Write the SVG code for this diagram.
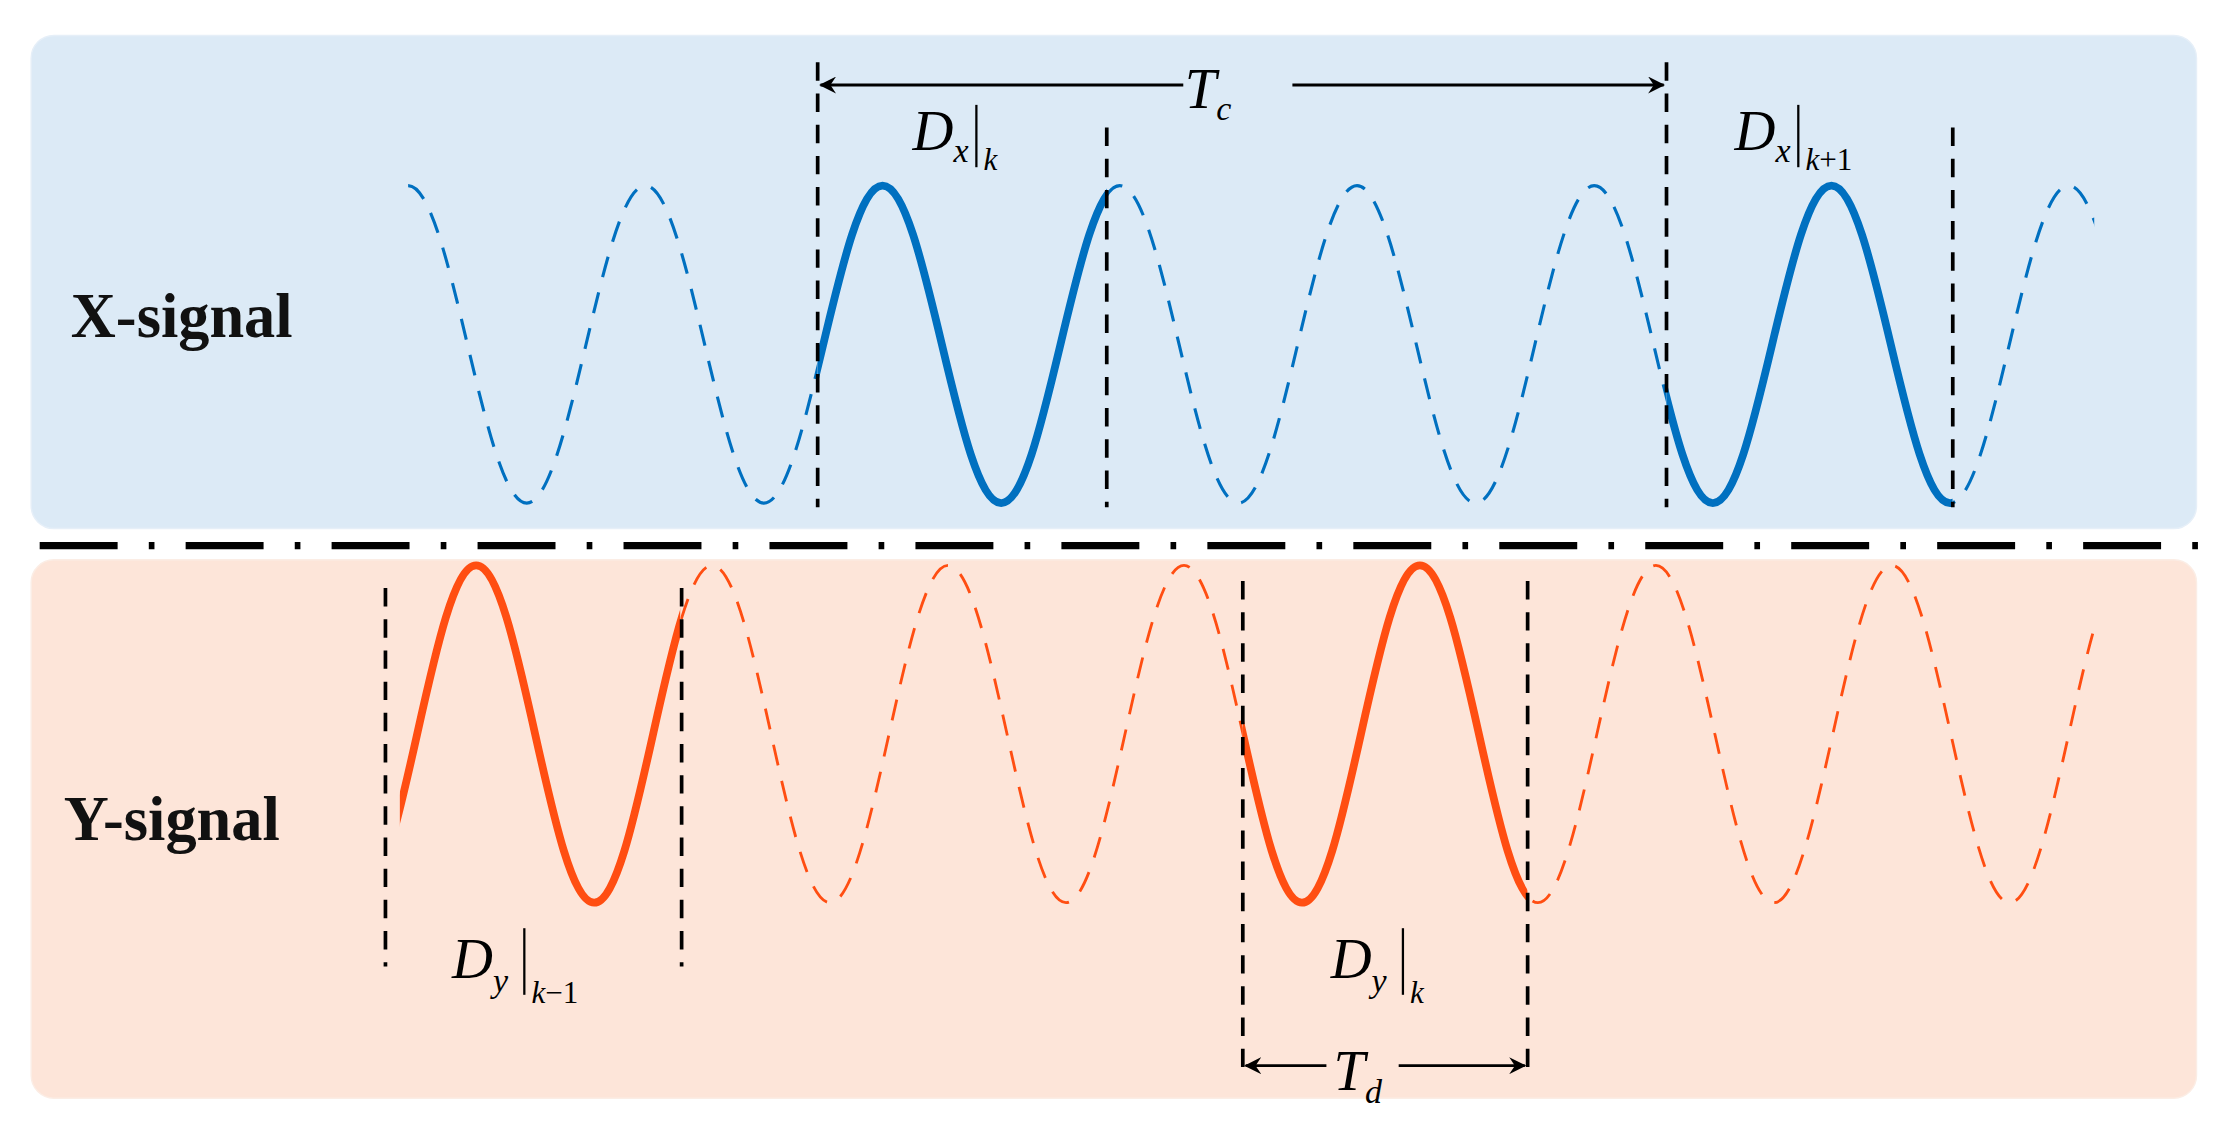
<svg xmlns="http://www.w3.org/2000/svg" width="2222" height="1129" viewBox="0 0 2222 1129">
<style>
.math{font-family:"Liberation Serif","Times New Roman","DejaVu Serif",serif;font-style:italic;fill:#000}
.lbl{font-family:"Liberation Serif","Times New Roman","DejaVu Serif",serif;font-weight:bold;font-size:44px;fill:#111}
.vd{stroke:#000;stroke-width:2.6;stroke-dasharray:13 9;fill:none}
.bar{stroke:#000;stroke-width:1.6}
.xs{stroke:#0070C0;stroke-width:5.5;fill:none;stroke-linecap:round}
.xd{stroke:#0070C0;stroke-width:2.2;fill:none;stroke-dasharray:15 11}
.ys{stroke:#FF4E12;stroke-width:5.5;fill:none;stroke-linecap:round}
.yd{stroke:#FF4E12;stroke-width:2;fill:none;stroke-dasharray:15 11}
.arr{stroke:#000;stroke-width:2;fill:none}
</style>
<defs>
<marker id="ah" viewBox="0 0 12 12" refX="11" refY="6" markerWidth="12" markerHeight="12" markerUnits="userSpaceOnUse" orient="auto-start-reverse">
<path d="M0,0 L12,6 L0,12 L4,6 Z" fill="#000"/>
</marker>
<path id="xw" d="M288,131 c15.15,0 28.21,54.67 41.85,112 c13.64,57.33 26.70,112 41.85,112 c15.15,0 28.21,-54.67 41.85,-112 c13.64,-57.33 26.70,-112 41.85,-112 c15.15,0 28.21,54.67 41.85,112 c13.64,57.33 26.70,112 41.85,112 c15.15,0 28.21,-54.67 41.85,-112 c13.64,-57.33 26.70,-112 41.85,-112 c15.15,0 28.21,54.67 41.85,112 c13.64,57.33 26.70,112 41.85,112 c15.15,0 28.21,-54.67 41.85,-112 c13.64,-57.33 26.70,-112 41.85,-112 c15.15,0 28.21,54.67 41.85,112 c13.64,57.33 26.70,112 41.85,112 c15.15,0 28.21,-54.67 41.85,-112 c13.64,-57.33 26.70,-112 41.85,-112 c15.15,0 28.21,54.67 41.85,112 c13.64,57.33 26.70,112 41.85,112 c15.15,0 28.21,-54.67 41.85,-112 c13.64,-57.33 26.70,-112 41.85,-112 c15.15,0 28.21,54.67 41.85,112 c13.64,57.33 26.70,112 41.85,112 c15.15,0 28.21,-54.67 41.85,-112 c13.64,-57.33 26.70,-112 41.85,-112 c15.15,0 28.21,54.67 41.85,112 c13.64,57.33 26.70,112 41.85,112 c15.15,0 28.21,-54.67 41.85,-112 c13.64,-57.33 26.70,-112 41.85,-112 c15.15,0 28.21,54.67 41.85,112"/>
<path id="yw" d="M252.75,637 c15.07,0 28.05,-58.07 41.625,-119 c13.57,-60.92 26.56,-119 41.625,-119 c15.07,0 28.05,58.07 41.625,119 c13.57,60.92 26.56,119 41.625,119 c15.07,0 28.05,-58.07 41.625,-119 c13.57,-60.92 26.56,-119 41.625,-119 c15.07,0 28.05,58.07 41.625,119 c13.57,60.92 26.56,119 41.625,119 c15.07,0 28.05,-58.07 41.625,-119 c13.57,-60.92 26.56,-119 41.625,-119 c15.07,0 28.05,58.07 41.625,119 c13.57,60.92 26.56,119 41.625,119 c15.07,0 28.05,-58.07 41.625,-119 c13.57,-60.92 26.56,-119 41.625,-119 c15.07,0 28.05,58.07 41.625,119 c13.57,60.92 26.56,119 41.625,119 c15.07,0 28.05,-58.07 41.625,-119 c13.57,-60.92 26.56,-119 41.625,-119 c15.07,0 28.05,58.07 41.625,119 c13.57,60.92 26.56,119 41.625,119 c15.07,0 28.05,-58.07 41.625,-119 c13.57,-60.92 26.56,-119 41.625,-119 c15.07,0 28.05,58.07 41.625,119 c13.57,60.92 26.56,119 41.625,119 c15.07,0 28.05,-58.07 41.625,-119 c13.57,-60.92 26.56,-119 41.625,-119 c15.07,0 28.05,58.07 41.625,119 c13.57,60.92 26.56,119 41.625,119 c15.07,0 28.05,-58.07 41.625,-119 c13.57,-60.92 26.56,-119 41.625,-119 c15.07,0 28.05,58.07 41.625,119 c13.57,60.92 26.56,119 41.625,119"/>
<clipPath id="cxs"><rect x="577" y="0" width="204" height="797"/><rect x="1176" y="0" width="202" height="797"/></clipPath>
<clipPath id="cxd"><rect x="270" y="0" width="307" height="797"/><rect x="781" y="0" width="395" height="797"/><rect x="1378" y="0" width="100" height="797"/></clipPath>
<clipPath id="cys"><rect x="282" y="0" width="198" height="797"/><rect x="877" y="0" width="201" height="797"/></clipPath>
<clipPath id="cyd"><rect x="480" y="0" width="397" height="797"/><rect x="1078" y="0" width="400" height="797"/></clipPath>
</defs>
<rect width="2222" height="1129" fill="#fff"/>
<g transform="scale(1.4171)">
<g id="panel-x">
<rect x="22" y="25" width="1528" height="348" rx="16" fill="#DCEAF6" stroke="#E6EFF8" stroke-width="1"/>
<text class="lbl" x="50" y="238">X-signal</text>
</g>
<g id="panel-y">
<rect x="22" y="395" width="1528" height="380" rx="16" fill="#FDE5D9" stroke="#FBEDE5" stroke-width="1"/>
<text class="lbl" x="45" y="593">Y-signal</text>
</g>
<g id="divider">
<line x1="28" y1="385" x2="1556" y2="385" stroke="#000" stroke-width="5" stroke-dasharray="55 22 4 22"/>
</g>
<g id="x-wave">
<use href="#xw" class="xd" clip-path="url(#cxd)"/>
<use href="#xw" class="xs" clip-path="url(#cxs)"/>
</g>
<g id="y-wave">
<use href="#yw" class="yd" clip-path="url(#cyd)"/>
<use href="#yw" class="ys" clip-path="url(#cys)"/>
</g>
<g id="connectors">
<line class="vd" x1="577" y1="44" x2="577" y2="358"/>
<line class="vd" x1="781" y1="90" x2="781" y2="358"/>
<line class="vd" x1="1176" y1="44" x2="1176" y2="358"/>
<line class="vd" x1="1378" y1="90" x2="1378" y2="358"/>
<line class="vd" x1="272" y1="415" x2="272" y2="682"/>
<line class="vd" x1="481" y1="415" x2="481" y2="682"/>
<line class="vd" x1="877" y1="410" x2="877" y2="755"/>
<line class="vd" x1="1078" y1="410" x2="1078" y2="755"/>
<line class="arr" x1="835" y1="60" x2="579" y2="60" marker-end="url(#ah)"/>
<line class="arr" x1="912" y1="60" x2="1174" y2="60" marker-end="url(#ah)"/>
<line class="arr" x1="936" y1="752" x2="879" y2="752" marker-end="url(#ah)"/>
<line class="arr" x1="987" y1="752" x2="1076" y2="752" marker-end="url(#ah)"/>
</g>
<g id="labels">
<text class="math" x="836" y="76" font-size="40">T<tspan font-size="24" dy="9">c</tspan></text>
<text class="math" x="941" y="769" font-size="40">T<tspan font-size="24" dy="9">d</tspan></text>
<text class="math" x="644" y="106" font-size="40">D<tspan font-size="24" dy="8">x</tspan></text>
<line class="bar" x1="689" y1="74" x2="689" y2="118"/>
<text class="math" x="694" y="120" font-size="22">k</text>
<text class="math" x="1224" y="106" font-size="40">D<tspan font-size="24" dy="8">x</tspan></text>
<line class="bar" x1="1269" y1="74" x2="1269" y2="118"/>
<text class="math" x="1274" y="120" font-size="22">k<tspan font-style="normal">+1</tspan></text>
<text class="math" x="319" y="690" font-size="40">D<tspan font-size="24" dy="10">y</tspan></text>
<line class="bar" x1="370" y1="655" x2="370" y2="702"/>
<text class="math" x="375" y="708" font-size="22">k<tspan font-style="normal">−1</tspan></text>
<text class="math" x="939" y="690" font-size="40">D<tspan font-size="24" dy="10">y</tspan></text>
<line class="bar" x1="990" y1="655" x2="990" y2="702"/>
<text class="math" x="995" y="708" font-size="22">k</text>
</g>
</g>
</svg>
